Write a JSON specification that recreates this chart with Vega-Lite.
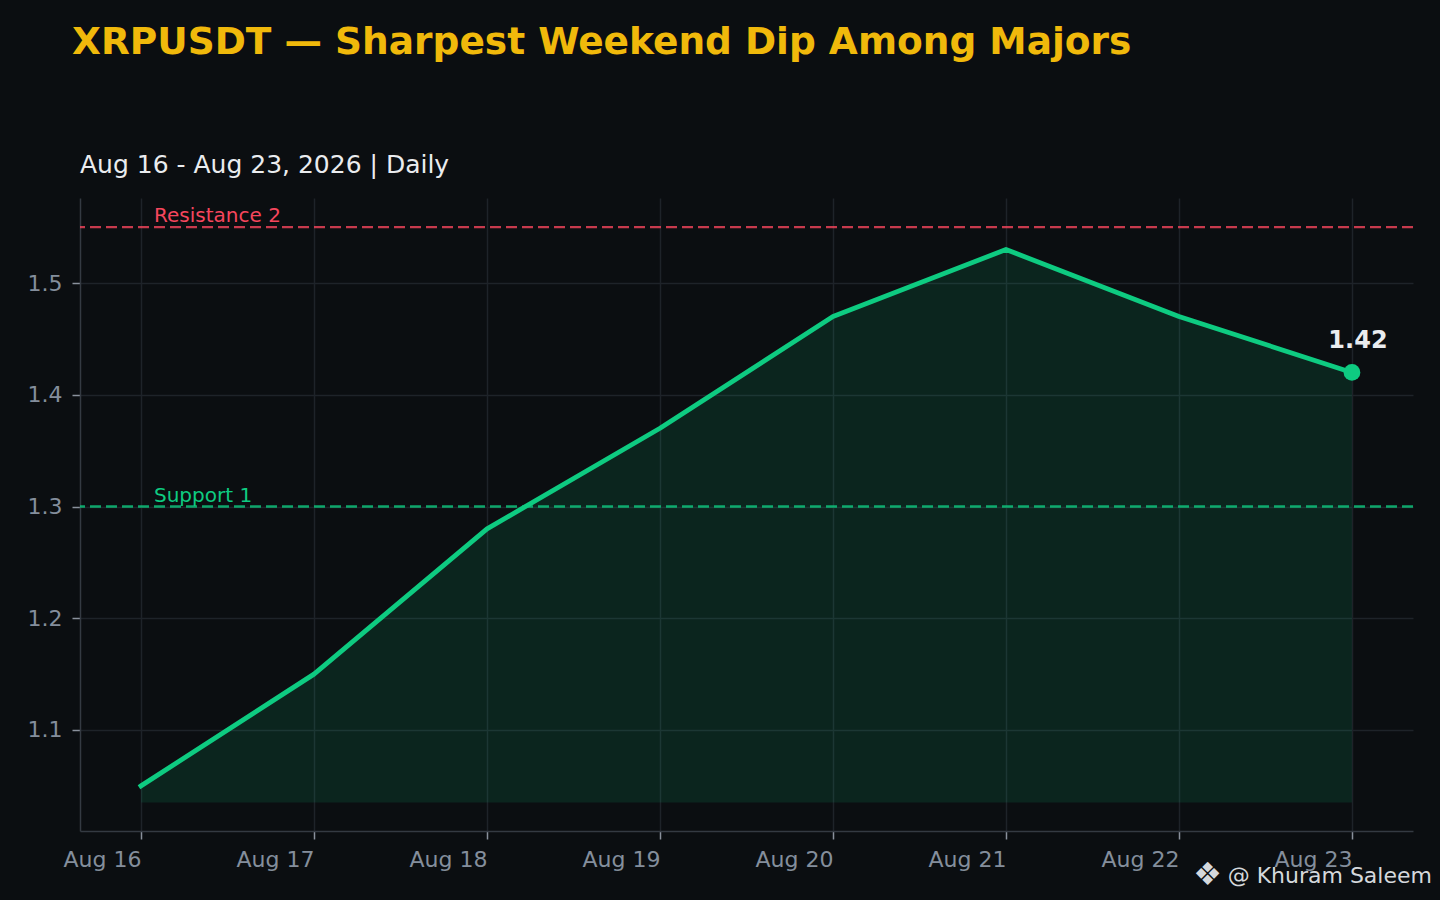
{
  "$schema": "https://vega.github.io/schema/vega-lite/v6.json",
  "width": 1333,
  "height": 633,
  "autosize": {"type": "none"},
  "padding": {"left": 80, "top": 198, "right": 27, "bottom": 69},
  "background": "#0b0e11",
  "title": {
    "text": "XRPUSDT — Sharpest Weekend Dip Among Majors",
    "anchor": "start",
    "frame": "group",
    "dx": -8,
    "offset": 62,
    "baseline": "alphabetic",
    "fontSize": 37.5,
    "fontWeight": "bold",
    "color": "#f0b90b"
  },
  "data": {
    "values": [
      {"date": "2026-08-16T00:00:00", "close": 1.05},
      {"date": "2026-08-17T00:00:00", "close": 1.15},
      {"date": "2026-08-18T00:00:00", "close": 1.28},
      {"date": "2026-08-19T00:00:00", "close": 1.37},
      {"date": "2026-08-20T00:00:00", "close": 1.47},
      {"date": "2026-08-21T00:00:00", "close": 1.53},
      {"date": "2026-08-22T00:00:00", "close": 1.47},
      {"date": "2026-08-23T00:00:00", "close": 1.42}
    ]
  },
  "layer": [
    {
      "mark": {"type": "area", "color": "#0ecb81", "opacity": 0.12},
      "encoding": {
        "x": {
          "field": "date", "type": "temporal", "title": null,
          "scale": {
            "domain": [
              {"year": 2026, "month": 8, "date": 15, "hours": 15, "minutes": 32},
              {"year": 2026, "month": 8, "date": 23, "hours": 8, "minutes": 28}
            ],
            "nice": false
          },
          "axis": {"format": "%b %d", "tickCount": {"interval": "day", "step": 1}}
        },
        "y": {
          "field": "close", "type": "quantitative", "title": null,
          "scale": {"domain": [1.0096, 1.5761], "nice": false, "zero": false},
          "axis": {"values": [1.1, 1.2, 1.3, 1.4, 1.5], "format": ".1f"}
        },
        "y2": {"datum": 1.035}
      }
    },
    {
      "data": {
        "values": [
          {"name": "Resistance 2", "level": 1.55, "kind": "resistance"},
          {"name": "Support 1", "level": 1.3, "kind": "support"}
        ]
      },
      "layer": [
        {
          "mark": {"type": "rule", "strokeDash": [11, 5], "strokeWidth": 2.4, "opacity": 0.8},
          "encoding": {
            "y": {"field": "level", "type": "quantitative", "title": null},
            "color": {
              "field": "kind", "type": "nominal", "legend": null,
              "scale": {"domain": ["resistance", "support"], "range": ["#f6465d", "#0ecb81"]}
            }
          }
        },
        {
          "mark": {"type": "text", "align": "left", "baseline": "alphabetic", "dy": -5, "fontSize": 20},
          "encoding": {
            "x": {"datum": {"year": 2026, "month": 8, "date": 16, "hours": 1, "minutes": 48}, "type": "temporal", "title": null},
            "y": {"field": "level", "type": "quantitative", "title": null},
            "text": {"field": "name"},
            "color": {"field": "kind", "type": "nominal", "legend": null}
          }
        }
      ]
    },
    {
      "mark": {"type": "line", "color": "#0ecb81", "strokeWidth": 4.8, "strokeJoin": "round", "strokeCap": "square"},
      "encoding": {
        "x": {"field": "date", "type": "temporal", "title": null},
        "y": {"field": "close", "type": "quantitative", "title": null}
      }
    },
    {
      "transform": [{"filter": {"field": "date", "equal": {"year": 2026, "month": 8, "date": 23}}}],
      "layer": [
        {
          "mark": {"type": "circle", "color": "#0ecb81", "size": 280, "opacity": 1}
        },
        {
          "mark": {"type": "text", "align": "center", "baseline": "alphabetic", "dx": 6, "dy": -24, "fontSize": 24, "fontWeight": "bold", "color": "#eaecef"},
          "encoding": {"text": {"field": "close", "type": "quantitative", "format": ".2f"}}
        }
      ],
      "encoding": {
        "x": {"field": "date", "type": "temporal", "title": null},
        "y": {"field": "close", "type": "quantitative", "title": null}
      }
    },
    {
      "data": {"values": [{"text": "Aug 16 - Aug 23, 2026 | Daily"}]},
      "mark": {"type": "text", "align": "left", "baseline": "alphabetic", "fontSize": 25, "color": "#eaecef"},
      "encoding": {
        "x": {"datum": {"year": 2026, "month": 8, "date": 15, "hours": 15, "minutes": 32}, "type": "temporal", "title": null},
        "y": {"datum": 1.5984, "title": null},
        "text": {"field": "text"}
      }
    },
    {
      "data": {"values": [{"text": "❖"}]},
      "mark": {"type": "text", "align": "right", "baseline": "middle", "fontSize": 32, "color": "#d5d8dc"},
      "encoding": {
        "x": {"datum": {"year": 2026, "month": 8, "date": 22, "hours": 5, "minutes": 58}, "type": "temporal", "title": null},
        "y": {"datum": 0.9702, "title": null},
        "text": {"field": "text"}
      }
    },
    {
      "data": {"values": [{"text": "@ Khuram Saleem"}]},
      "mark": {"type": "text", "align": "right", "baseline": "alphabetic", "fontSize": 22, "color": "#d5d8dc"},
      "encoding": {
        "x": {"datum": {"year": 2026, "month": 8, "date": 23, "hours": 11, "minutes": 6}, "type": "temporal", "title": null},
        "y": {"datum": 0.9631, "title": null},
        "text": {"field": "text"}
      }
    }
  ],
  "config": {
    "font": "DejaVu Sans",
    "view": {"stroke": null},
    "axis": {
      "grid": true,
      "gridColor": "#1e2329",
      "gridWidth": 1.5,
      "domainColor": "#343a42",
      "domainWidth": 1.5,
      "tickColor": "#8a919c",
      "tickSize": 8,
      "tickWidth": 1.5,
      "labelColor": "#848e9c",
      "labelFontSize": 22,
      "labelFont": "DejaVu Sans",
      "labelPadding": 10,
      "labelFlush": false,
      "labelOverlap": false,
      "labelBound": false
    },
    "axisX": {"labelAlign": "right", "labelBaseline": "top", "domain": true},
    "axisY": {"labelAlign": "right", "labelBaseline": "middle", "domain": true}
  }
}
